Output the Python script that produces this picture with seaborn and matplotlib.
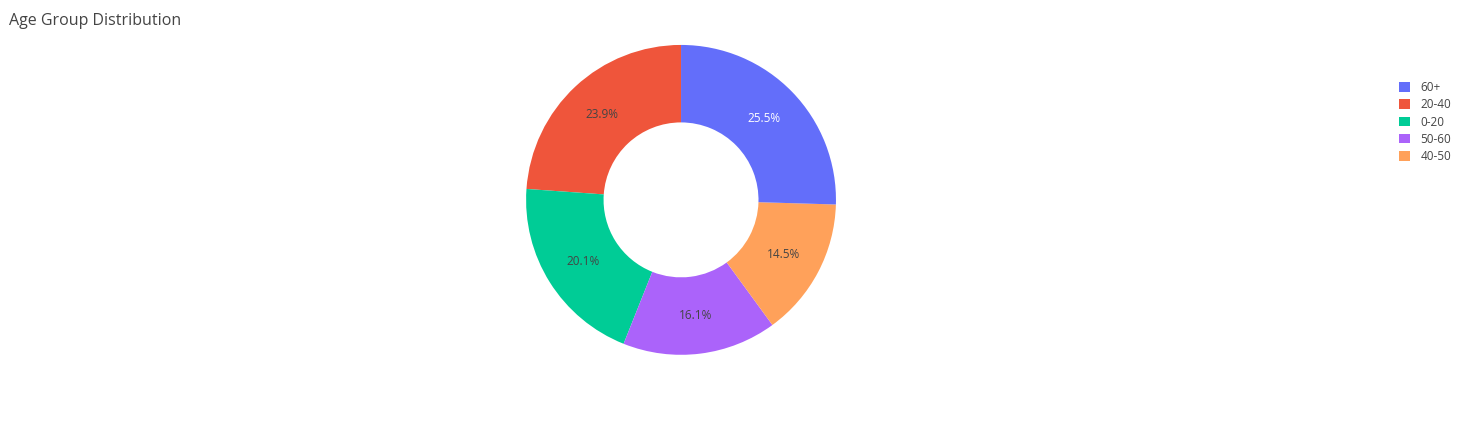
import matplotlib.pyplot as plt
import seaborn as sns
from matplotlib.patches import Patch

sns.set_theme(style="white")
plt.rcParams['font.family'] = ['Open Sans', 'DejaVu Sans']

# slices in drawing order (counter-clockwise from 12 o'clock)
groups = ['20-40', '0-20', '50-60', '40-50', '60+']
shares = [23.9, 20.1, 16.1, 14.5, 25.5]
colors = ['#EF553B', '#00CC96', '#AB63FA', '#FFA15A', '#636EFA']
legend_order = ['60+', '20-40', '0-20', '50-60', '40-50']

fig = plt.figure(figsize=(14.63, 4.28), dpi=100)
ax = fig.add_axes([0.3595, 0.171, 0.212, 0.724])
wedges, texts, autotexts = ax.pie(
    shares, colors=colors, startangle=90, counterclock=True,
    autopct='%.1f%%', pctdistance=0.75,
    wedgeprops=dict(width=0.5, edgecolor='none'),
    textprops=dict(fontsize=8.5, color='#444444'))
for g, t in zip(groups, autotexts):
    if g == '60+':
        t.set_color('white')
ax.set_xlim(-1, 1)
ax.set_ylim(-1, 1)
ax.set_aspect('equal')

fig.text(0.006, 0.95, 'Age Group Distribution', fontsize=11.5, color='#444444', va='center')

cmap = dict(zip(groups, colors))
handles = [Patch(facecolor=cmap[g], edgecolor='none') for g in legend_order]
fig.legend(handles, legend_order, loc='upper left', bbox_to_anchor=(0.949, 0.835),
           frameon=False, fontsize=8.5, handlelength=0.9, handleheight=0.9,
           labelspacing=0.35, handletextpad=0.9, labelcolor='#444444')

fig.savefig('out.png', dpi=100)
